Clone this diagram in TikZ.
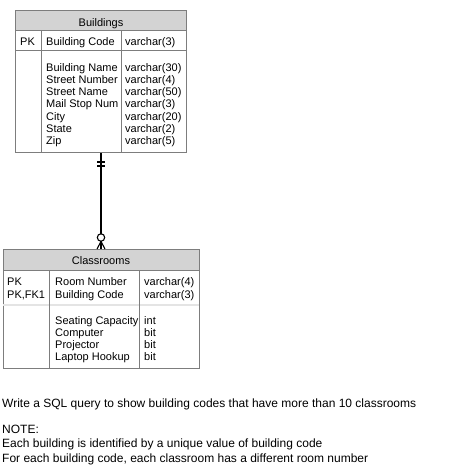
\documentclass[tikz,border=0pt]{standalone}
\usepackage{fontspec}
\setmainfont{Liberation Sans}
\usetikzlibrary{calc}
\definecolor{hdrgray}{RGB}{211,211,211}
\definecolor{boxgray}{RGB}{125,125,125}
\definecolor{sepgray}{RGB}{228,228,228}
\tikzstyle{tblhead}=[draw=boxgray, fill=hdrgray, line width=1pt, inner sep=0pt, anchor=north west]
\tikzstyle{tblbody}=[draw=boxgray, line width=1pt, inner sep=0pt, anchor=north west]
\tikzstyle{cell}=[anchor=base west, inner sep=0pt, font=\fontsize{11}{12}\selectfont]
\tikzstyle{note}=[anchor=base west, inner sep=0pt, font=\fontsize{12}{14}\selectfont]

\begin{document}
\begin{tikzpicture}[x=1pt,y=-1pt]
\useasboundingbox (0,0) rectangle (471,472);
\node[tblhead, minimum width=171pt, minimum height=20pt] (bldhead) at (15,10) {};
\node[tblbody, minimum width=171pt, minimum height=122pt] (bldbody) at (15,30) {};
\node[cell, anchor=base] (bldname) at ($(bldhead.south)+(0,-5)$) {Buildings};
\draw[boxgray] ($(bldbody.north west)+(0,20)$) -- ($(bldbody.north east)+(0,20)$);
\draw[boxgray] ($(bldbody.north west)+(26,0)$) -- ($(bldbody.south west)+(26,0)$);
\draw[boxgray] ($(bldbody.north west)+(106,0)$) -- ($(bldbody.south west)+(106,0)$);
\node[cell] (bldpk) at (20,45) {PK};
\node[cell] (bldkey) at (46,45) {Building Code};
\node[cell] (bldkeytype) at (125,45) {varchar(3)};
\foreach \f/\t [count=\i] in {Building Name/varchar(30), Street Number/varchar(4), Street Name/varchar(50), Mail Stop Num/varchar(3), City/varchar(20), State/varchar(2), Zip/varchar(5)}{
  \node[cell] (bldf\i) at (46,{71+12.33*(\i-1)}) {\f};
  \node[cell] (bldt\i) at (125,{71+12.33*(\i-1)}) {\t};
}

\node[tblhead, minimum width=196pt, minimum height=21pt] (clshead) at (2.5,249) {};
\node[tblbody, minimum width=196pt, minimum height=98pt] (clsbody) at (2.5,270) {};
\node[cell, anchor=base] (clsname) at ($(clshead.south)+(0,-7)$) {Classrooms};
\draw[sepgray, line width=2pt] ($(clsbody.north west)+(0.5,35)$) -- ($(clsbody.north east)+(-0.5,35)$);
\draw[boxgray] ($(clsbody.north west)+(46.5,0)$) -- ($(clsbody.south west)+(46.5,0)$);
\draw[boxgray] ($(clsbody.north west)+(136.5,0)$) -- ($(clsbody.south west)+(136.5,0)$);
\node[cell] (clspk1) at (7,285) {PK};
\node[cell] (clspk2) at (7,298) {PK,FK1};
\node[cell] (clskey1) at (55,285) {Room Number};
\node[cell] (clskey2) at (55,298) {Building Code};
\node[cell] (clskeytype1) at (144,285) {varchar(4)};
\node[cell] (clskeytype2) at (144,298) {varchar(3)};
\foreach \f/\t [count=\i] in {Seating Capacity/int, Computer/bit, Projector/bit, Laptop Hookup/bit}{
  \node[cell] (clsf\i) at (55,{324+12*(\i-1)}) {\f};
  \node[cell] (clst\i) at (144,{324+12*(\i-1)}) {\t};
}

\draw[line width=1.3pt] (bldbody.south) -- (clshead.north);
\draw[line width=1.1pt] ($(bldbody.south)+(-4,9)$) -- ($(bldbody.south)+(4,9)$);
\draw[line width=1.1pt] ($(bldbody.south)+(-4,13)$) -- ($(bldbody.south)+(4,13)$);
\draw[line width=1.1pt, fill=white] ($(clshead.north)+(0,-11.5)$) circle (3.7);
\draw[line width=1.1pt] ($(clshead.north)+(0,-7.5)$) -- ($(clshead.north)+(-4,0)$)
  ($(clshead.north)+(0,-7.5)$) -- ($(clshead.north)+(4,0)$);

\node[note] (task) at (2,407) {Write a SQL query to show building codes that have more than 10 classrooms};
\node[note] (note) at (2,433) {NOTE:};
\node[note] (note1) at (2,447.5) {Each building is identified by a unique value of building code};
\node[note] (note2) at (2,462) {For each building code, each classroom has a different room number};
\end{tikzpicture}
\end{document}
